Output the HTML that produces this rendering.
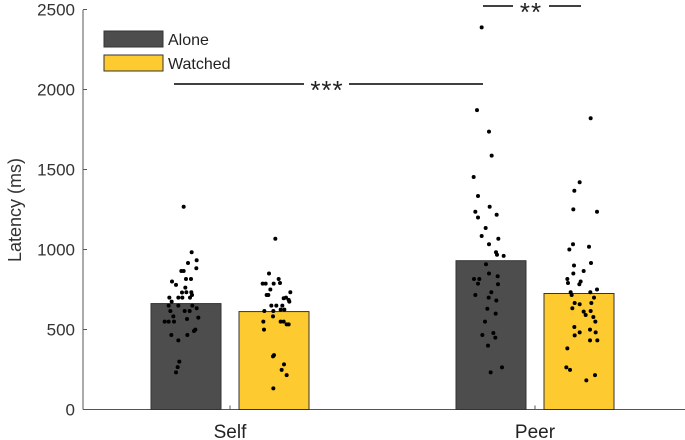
<!DOCTYPE html>
<html><head><meta charset="utf-8"><style>
body{margin:0;background:#fff;}
svg{display:block;font-family:"Liberation Sans",Arial,sans-serif;}
</style></head><body>
<svg id="chart" width="685" height="440"></svg>
<script>
const categories=["Self","Peer"];
const seriesNames=["Alone","Watched"];
const aloneMeans=[662,930];
const watchedMeans=[612,725];
const yTicks=[0,500,1000,1500,2000,2500];
const selfAloneVals=[1267,983,916,933,883,800,779,866,866,816,816,762,731,733,733,699,674,699,699,699,716,649,649,649,633,616,616,574,582,616,549,549,549,566,499,491,466,466,432,299,265,232];
const selfAloneJit=[553,577,566,592,591,518,530,546,553,560,575,558,548,561,576,510,517,537,549,572,578,508,537,579,592,513,571,597,522,556,496,508,524,563,588,584,516,564,537,540,535,530];
const selfWatchedVals=[1067,850,816,787,787,787,791,750,716,733,716,695,699,685,674,649,649,649,624,624,616,616,582,549,549,549,532,532,499,340,332,282,248,215,132];
const selfWatchedJit=[826,807,836,788,797,821,840,811,805,871,800,851,858,866,868,814,829,847,842,853,793,820,819,790,842,851,860,866,792,822,819,852,845,860,820];
const peerAloneVals=[2388,1871,1737,1587,1453,1334,1236,1267,1200,1217,1134,1084,1067,1033,967,983,960,908,850,816,816,787,833,783,716,733,699,681,630,599,549,478,466,449,399,263,232];
const peerAloneJit=[247,233,269,277,223,236,228,271,236,292,259,247,297,269,293,290,313,260,269,224,240,236,295,296,228,276,268,291,264,289,257,282,249,288,266,308,274];
const peerWatchedVals=[1820,1420,1367,1236,1251,1033,1017,1000,916,900,866,850,800,816,791,783,733,716,733,750,699,666,658,666,633,612,616,591,578,549,516,499,463,482,482,432,432,382,263,248,215,182];
const peerWatchedJit=[570,537,521,589,518,517,565,506,571,520,549,518,540,500,502,536,510,513,569,589,580,522,537,572,515,549,570,555,578,584,521,568,522,537,585,568,590,500,497,508,583,557];

const svg=document.getElementById('chart');
const NS='http://www.w3.org/2000/svg';
const y0=409.5, sc=0.16;
function yS(v){return y0-v*sc;}
const catX=[230,535];
const barW=70, gap=18;
function mk(t,a,p){const e=document.createElementNS(NS,t);for(const k in a)e.setAttribute(k,a[k]);(p||svg).appendChild(e);return e;}

const ax=mk('line',{x1:83,y1:10,x2:83,y2:y0,stroke:'#555','stroke-width':1});


const xa=mk('line',{x1:83,y1:y0,x2:685,y2:y0,stroke:'#555','stroke-width':1});


yTicks.forEach(v=>{
  const y=yS(v);
  mk('line',{x1:83,y1:y,x2:87,y2:y,stroke:'#555'});
  const t=mk('text',{x:75,y:y+6,'text-anchor':'end','font-size':17,fill:'#333'});
  t.textContent=v;
  
  
});
const yt=mk('text',{x:0,y:0,'text-anchor':'middle','font-size':18,fill:'#333',transform:'translate(21,210) rotate(-90)'});
yt.textContent='Latency (ms)';



const colors=['#4d4d4d','#fdcb2f'];
const means=[aloneMeans,watchedMeans];
const pts=[[selfAloneVals,selfAloneJit,560,peerAloneVals,peerAloneJit,275],[selfWatchedVals,selfWatchedJit,822,peerWatchedVals,peerWatchedJit,535]];
categories.forEach((c,ci)=>{
  const cx=catX[ci];
  mk('line',{x1:cx,y1:y0,x2:cx,y2:y0-4,stroke:'#555'});
  const lt=mk('text',{x:cx,y:438,'text-anchor':'middle','font-size':19,fill:'#222'});
  lt.textContent=c;
  
  
  [0,1].forEach(si=>{
    const left=si===0?cx-gap/2-barW:cx+gap/2;
    const top=yS(means[si][ci]);
    const b=mk('rect',{x:left,y:top,width:barW,height:y0-top,fill:colors[si],stroke:'#333','stroke-width':1});
    
    
  });
});
[0,1].forEach(si=>{
  [0,1].forEach(ci=>{
    const vals=pts[si][ci*3], jit=pts[si][ci*3+1], center=pts[si][ci*3+2];
    const cx=ci===0?(si===0?catX[0]-gap/2-barW/2:catX[0]+gap/2+barW/2):(si===0?catX[1]-gap/2-barW/2:catX[1]+gap/2+barW/2);
    vals.forEach((v,i)=>{
      const d=mk('circle',{cx:cx+(jit[i]-center)/3,cy:yS(v),r:2,fill:'#000'});
      
      
    });
  });
});
const lg=mk('g',{});


seriesNames.forEach((n,i)=>{
  const y=31+i*24;
  const r=mk('rect',{x:104,y:y,width:59,height:16,fill:colors[i],stroke:'#333'},lg);
  
  
  const t=mk('text',{x:168,y:y+14,'font-size':16,fill:'#222'},lg);
  t.textContent=n;
  
  
});
function sig(x1,x2,y,s1,s2,tx,txt,name){
  mk('line',{x1:x1,y1:y,x2:s1,y2:y,stroke:'#000','stroke-width':1.5});
  mk('line',{x1:s2,y1:y,x2:x2,y2:y,stroke:'#000','stroke-width':1.5});
  const t=mk('text',{x:tx,y:y+15,'text-anchor':'middle','font-size':26,'letter-spacing':'1',fill:'#222'});
  t.textContent=txt;
  
  
}
sig(174,483,84,304,349,327,'***','significance-main');
sig(483,581,6,513,549,531,'**','significance-peer');
</script>
</body></html>
